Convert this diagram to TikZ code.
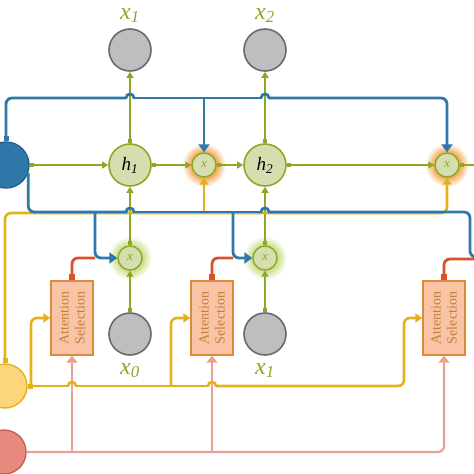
\documentclass[tikz,border=0pt]{standalone}
\usepackage{fontspec}
\setmainfont{Liberation Serif}
\usetikzlibrary{arrows.meta}
\definecolor{cblue}{RGB}{46,120,170}
\definecolor{cgrn}{RGB}{140,168,40}
\definecolor{clgrn}{RGB}{214,222,175}
\definecolor{cgrayf}{RGB}{190,190,192}
\definecolor{cgrayd}{RGB}{105,105,110}
\definecolor{cyel}{RGB}{227,178,27}
\definecolor{cyelf}{RGB}{253,213,122}
\definecolor{csal}{RGB}{235,160,146}
\definecolor{csalf}{RGB}{232,138,126}
\definecolor{csald}{RGB}{200,96,79}
\definecolor{cred}{RGB}{217,80,43}
\definecolor{cboxf}{RGB}{249,196,166}
\definecolor{cboxd}{RGB}{217,138,58}
\definecolor{cboxt}{RGB}{197,126,58}
\definecolor{glowor}{RGB}{245,165,80}
\definecolor{glowgr}{RGB}{200,222,130}
\pgfdeclareradialshading{glowO}{\pgfpoint{0bp}{0bp}}{color(0bp)=(glowor); color(14bp)=(glowor); color(25bp)=(white); color(50bp)=(white)}
\pgfdeclareradialshading{glowG}{\pgfpoint{0bp}{0bp}}{color(0bp)=(glowgr); color(14bp)=(glowgr); color(25bp)=(white); color(50bp)=(white)}
\newcommand\hopat[3]{\draw[#3,line cap=round,rounded corners=0pt] (#1-4,#2) .. controls (#1-4,#2-5.3) and (#1+4,#2-5.3) .. (#1+4,#2);}
\begin{document}
\begin{tikzpicture}[x=1pt,y=-1pt,
  bigc/.style={circle,minimum size=42pt,inner sep=0pt,line width=1.6pt},
  hnode/.style={bigc,draw=cgrn,fill=clgrn,font=\itshape\fontsize{19}{19}\selectfont},
  onode/.style={bigc,draw=cgrayd,fill=cgrayf},
  mnode/.style={circle,minimum size=24pt,inner sep=0pt,line width=1.4pt,draw=cgrn,fill=clgrn,text=cgrn,font=\itshape\fontsize{13}{13}\selectfont},
  srcnode/.style={circle,minimum size=46pt,inner sep=0pt,line width=1.4pt},
  attbox/.style={draw=cboxd,fill=cboxf,line width=1.4pt,minimum width=42pt,minimum height=74pt,inner sep=0pt},
  attlbl/.style={rotate=90,text=cboxt,align=center,font=\fontsize{14}{16}\selectfont},
  xlbl/.style={anchor=base,inner sep=0pt,text=cgrn,font=\itshape\fontsize{24}{24}\selectfont},
  tl/.style={rounded corners=6pt},
  bl/.style={tl,draw=cblue,line width=2.8pt},
  gl/.style={draw=cgrn,line width=1.6pt,arrows={Square[length=4pt,width=4pt]-Triangle[length=6pt,width=7pt]}},
  yl/.style={tl,draw=cyel,line width=2.6pt},
  rl/.style={tl,draw=cred,line width=2.8pt,arrows={Square[length=6pt,width=6pt]-}},
  sl/.style={tl,draw=csal,line width=2.2pt,arrows={-Triangle[length=7pt,width=11pt]}},
  btip/.style={arrows={-Triangle[length=8pt,width=11pt]}},
  ytip/.style={arrows={-Triangle[length=7pt,width=9pt]}},
]
\useasboundingbox (0,0) rectangle (474,474);
\clip (0,0) rectangle (474,474);
% glows
\shade[shading=glowO] (204,165) circle[radius=22pt];
\shade[shading=glowO] (447,165) circle[radius=22pt];
\shade[shading=glowG] (130,258) circle[radius=22pt];
\shade[shading=glowG] (265,258) circle[radius=22pt];
% nodes
\node[srcnode,fill=cblue,draw=cblue!80!black] (bc) at (6,165) {};
\node[srcnode,minimum size=44pt,fill=cyelf,draw=cyel] (yc) at (5,386) {};
\node[srcnode,minimum size=44pt,fill=csalf,draw=csald] (sc) at (4,452) {};
\node[onode] (o1) at (130,50) {};
\node[onode] (o2) at (265,50) {};
\node[hnode] (h1) at (130,165) {h\textsubscript{1}};
\node[hnode] (h2) at (265,165) {h\textsubscript{2}};
\node[mnode] (m1) at (204,165) {x};
\node[mnode] (m2) at (447,165) {x};
\node[mnode] (m3) at (130,258) {x};
\node[mnode] (m4) at (265,258) {x};
\node[onode] (i0) at (130,334) {};
\node[onode] (i1) at (265,334) {};
\node[attbox] (b1) at (72,318) {};
\node[attbox] (b2) at (212,318) {};
\node[attbox] (b3) at (444,318) {};
\node[attlbl] (b1t) at (b1.center) {Attention\\Selection};
\node[attlbl] (b2t) at (b2.center) {Attention\\Selection};
\node[attlbl] (b3t) at (b3.center) {Attention\\Selection};
\node[xlbl] (t1) at (130,19) {x\textsubscript{1}};
\node[xlbl] (t2) at (265,19) {x\textsubscript{2}};
\node[xlbl] (t3) at (130,374) {x\textsubscript{0}};
\node[xlbl] (t4) at (265,374) {x\textsubscript{1}};
% salmon
\draw[sl] (sc.east) -- (444,452) -- (b3.south);
\draw[sl] (72,452) -- (b1.south);
\draw[sl] (212,452) -- (b2.south);
% yellow (lower)
\draw[yl,arrows={Square[length=5pt,width=5pt]-}] (yc.east) -- (68,386);
\hopat{72}{386}{yl}
\draw[yl] (76,386) -- (208,386);
\hopat{212}{386}{yl}
\draw[yl,ytip] (216,386) -- (404,386) -- (404,318) -- (b3.west);
\draw[yl,ytip] (31,386) -- (31,318) -- (b1.west);
\draw[yl,ytip] (171,386) -- (171,318) -- (b2.west);
% green
\draw[gl] (bc.east) -- (h1.west);
\draw[gl] (h1.east) -- (m1.west);
\draw[gl] (m1.east) -- (h2.west);
\draw[gl] (h2.east) -- (m2.west);
\draw[gl,arrows={Square[length=4pt,width=4pt]-}] (m2.east) -- (480,165);
\draw[gl] (h1.north) -- (o1.south);
\draw[gl] (h2.north) -- (o2.south);
\draw[gl] (m3.north) -- (h1.south);
\draw[gl] (m4.north) -- (h2.south);
\draw[gl] (i0.north) -- (m3.south);
\draw[gl] (i1.north) -- (m4.south);
% yellow (upper)
\draw[yl,arrows={Square[length=5pt,width=5pt]-Triangle[length=7pt,width=9pt]}] (yc.north) -- (5,213) -- (447,213) -- (m2.south);
\draw[yl,ytip] (204,213) -- (m1.south);
% red
\draw[rl] (b1.north) -- (72,258) -- (95,258);
\draw[rl] (b2.north) -- (212,258) -- (233,258);
\draw[rl] (b3.north) -- (444,259) -- (480,259);
% blue (upper)
\draw[bl,arrows={Square[length=5pt,width=5pt]-}] (bc.north) -- (6,98) -- (126,98);
\hopat{130}{98}{bl}
\draw[bl] (134,98) -- (261,98);
\hopat{265}{98}{bl}
\draw[bl,btip] (269,98) -- (447,98) -- (m2.north);
\draw[bl,btip] (204,98) -- (m1.north);
% blue (lower)
\draw[bl] (bc.-20) |- (126,212);
\hopat{130}{212}{bl}
\draw[bl] (134,212) -- (261,212);
\hopat{265}{212}{bl}
\draw[bl] (269,212) -- (470,212) -- (470,257) -- (480,257);
\draw[bl,btip] (95,212) -- (95,258) -- (m3.west);
\draw[bl,btip] (233,212) -- (233,258) -- (m4.west);
\end{tikzpicture}
\end{document}
